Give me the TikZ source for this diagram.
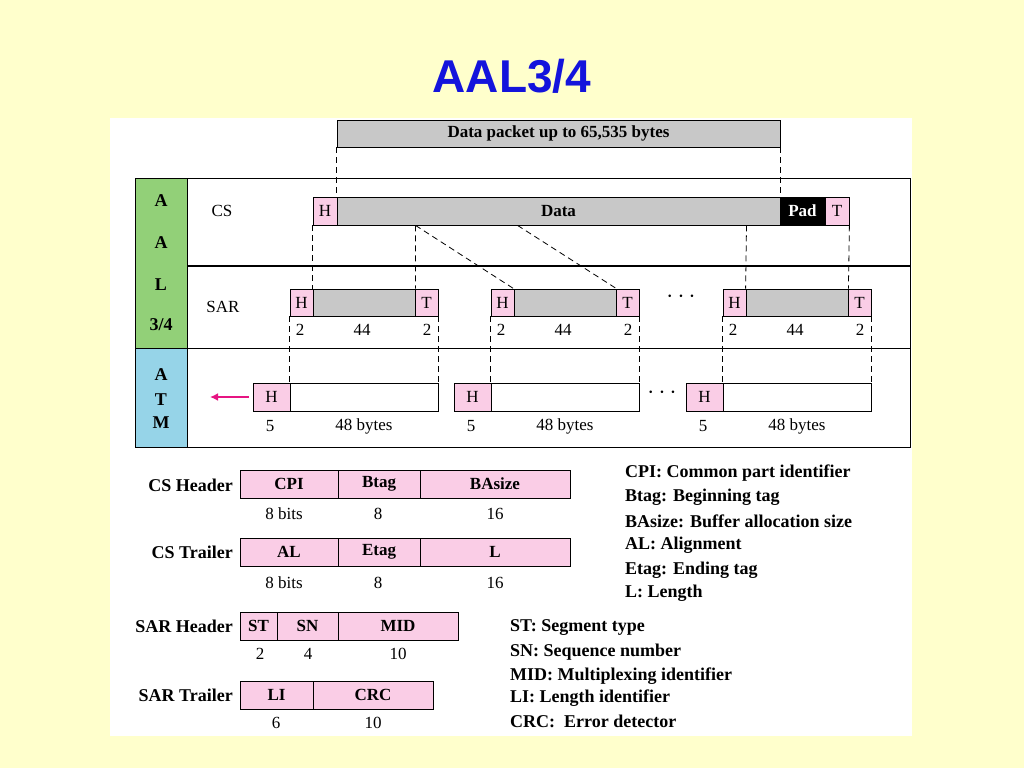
\documentclass[tikz,border=0pt]{standalone}
\usepackage{fontspec}
\usetikzlibrary{arrows.meta}
\setmainfont{Liberation Serif}
\newfontfamily\titlefont{Liberation Sans}
\definecolor{bgy}{RGB}{255,255,204}
\definecolor{pk}{RGB}{250,205,230}
\definecolor{gr}{RGB}{200,200,200}
\definecolor{aalg}{RGB}{146,208,120}
\definecolor{atmb}{RGB}{150,212,232}
\definecolor{ttl}{RGB}{20,20,220}
\definecolor{mag}{RGB}{230,20,130}
\tikzset{
  fld/.style={draw, fill=pk, inner sep=0pt, line width=0.8pt, font=\fontsize{17}{18}\selectfont},
  bfld/.style={fld, font=\fontsize{17}{18}\selectfont\bfseries},
  num/.style={inner sep=0pt, font=\fontsize{17}{18}\selectfont},
  lbl/.style={inner sep=0pt, font=\fontsize{18}{20}\selectfont\bfseries},
  dsh/.style={dashed, line width=0.8pt, dash pattern=on 6pt off 4pt}
}
\begin{document}
\begin{tikzpicture}[x=1pt,y=-1pt]
\fill[bgy] (0,0) rectangle (1024,768);
\useasboundingbox (0,0) rectangle (1024,768);
\fill[white] (110,118) rectangle (912,736);
\node[font=\titlefont\fontsize{46}{50}\selectfont\bfseries, text=ttl] (title) at (512,76) {AAL3/4};

% top data packet
\node[fld, fill=gr, minimum width=443pt, minimum height=27pt, font=\fontsize{17}{18}\selectfont\bfseries] (pkt) at (558.5,133.5) {Data packet up to 65,535 bytes};

% frame
\fill[aalg] (135,178) rectangle (187,348);
\fill[atmb] (135,348) rectangle (187,447);
\draw[line width=0.9pt] (135,178) rectangle (910,447);
\draw[line width=0.9pt] (187,178) -- (187,447);
\draw[line width=1.2pt] (187,266) -- (910,266);
\draw[line width=0.9pt] (135,348) -- (910,348);
\node[lbl] (la1) at (161,201) {A};
\node[lbl] (la2) at (161,243) {A};
\node[lbl] (la3) at (161,285) {L};
\node[lbl] (la4) at (161,325) {3/4};
\node[lbl] (lt1) at (161,375) {A};
\node[lbl] (lt2) at (161,400) {T};
\node[lbl] (lt3) at (161,423) {M};
\node[num] (cs) at (222,211) {CS};
\node[num] (sar) at (223,307) {SAR};

% CS row
\node[fld, minimum width=24pt, minimum height=28pt] (csH) at (325,211) {H};
\node[fld, fill=gr, minimum width=443pt, minimum height=28pt, font=\fontsize{17}{18}\selectfont\bfseries] (csD) at (558.5,211) {Data};
\node[fld, fill=black, text=white, minimum width=45pt, minimum height=28pt, font=\fontsize{17}{18}\selectfont\bfseries] (csP) at (802.5,211) {Pad};
\node[fld, minimum width=24pt, minimum height=28pt] (csT) at (837,211) {T};

% SAR row
\foreach \i/\x in {1/290, 2/491, 3/723} {
  \node[fld, minimum width=23pt, minimum height=27pt] (sH\i) at (\x+11.5,302.5) {H};
  \node[fld, fill=gr, minimum width=102pt, minimum height=27pt] (sD\i) at (\x+74,302.5) {};
  \node[fld, minimum width=23pt, minimum height=27pt] (sT\i) at (\x+136.5,302.5) {T};
  \node[num] (n2a\i) at (\x+10,330) {2};
  \node[num] (n44\i) at (\x+72,330) {44};
  \node[num] (n2b\i) at (\x+137,330) {2};
  \node[fld, minimum width=37pt, minimum height=28pt] (aH\i) at (\x-18.5,397) {H};
  \node[fld, fill=white, minimum width=148pt, minimum height=28pt] (aD\i) at (\x+74,397) {};
  \node[num] (a5\i) at (\x-20,426) {5};
  \node[num] (a48\i) at (\x+74,426) {48 bytes};
  \draw[dsh] (sH\i.south west) -- (aD\i.north west);
  \draw[dsh] (sT\i.south east) -- (aD\i.north east);
}
\node[font=\fontsize{26}{26}\selectfont\bfseries] (dots1) at (681,297) {$\cdots$};
\node[font=\fontsize{26}{26}\selectfont\bfseries] (dots2) at (662,393) {$\cdots$};
\coordinate (arr) at (210,397);
\draw[mag, line width=1.8pt, -{Latex[length=8pt,width=8pt]}] (aH1.west) ++(-4,0) -- (arr);

% dashed mapping
\draw[dsh] (pkt.south west) -- (csD.north west);
\draw[dsh] (pkt.south east) -- (csD.north east);
\draw[dsh] (csH.south west) -- (sD1.north west);
\draw[dsh] ([xshift=-143pt]csD.south) -- (sD1.north east);
\draw[dsh] ([xshift=-143pt]csD.south) -- (sD2.north west);
\draw[dsh] ([xshift=-41pt]csD.south) -- (sD2.north east);
\draw[dsh] ([xshift=188pt]csD.south) -- (sD3.north west);
\draw[dsh] (csT.south east) -- (sD3.north east);

% field formats
\node[lbl, anchor=east] (csh) at (233,485) {CS Header};
\node[bfld, minimum width=98pt, minimum height=28pt] (cpi) at (289,484) {CPI};
\node[bfld, minimum width=82pt, minimum height=28pt] (btag) at (379,484) {Btag};
\node[bfld, minimum width=150pt, minimum height=28pt] (bas) at (495,484) {BAsize};
\node[num] (c1) at (284,514) {8 bits};
\node[num] (c2) at (378,514) {8};
\node[num] (c3) at (495,514) {16};

\node[lbl, anchor=east] (cst) at (233,552) {CS Trailer};
\node[bfld, minimum width=98pt, minimum height=28pt] (al) at (289,552) {AL};
\node[bfld, minimum width=82pt, minimum height=28pt] (etag) at (379,552) {Etag};
\node[bfld, minimum width=150pt, minimum height=28pt] (ll) at (495,552) {L};
\node[num] (t1) at (284,583) {8 bits};
\node[num] (t2) at (378,583) {8};
\node[num] (t3) at (495,583) {16};

\node[lbl, anchor=east] (sarh) at (233,626) {SAR Header};
\node[bfld, minimum width=37pt, minimum height=28pt] (st) at (258.5,626) {ST};
\node[bfld, minimum width=61pt, minimum height=28pt] (sn) at (307.5,626) {SN};
\node[bfld, minimum width=120pt, minimum height=28pt] (mid) at (398,626) {MID};
\node[num] (h1) at (260,654) {2};
\node[num] (h2) at (308,654) {4};
\node[num] (h3) at (398,654) {10};

\node[lbl, anchor=east] (sart) at (233,695) {SAR Trailer};
\node[bfld, minimum width=73pt, minimum height=28pt] (li) at (276.5,695) {LI};
\node[bfld, minimum width=120pt, minimum height=28pt] (crc) at (373,695) {CRC};
\node[num] (r1) at (276,723) {6};
\node[num] (r2) at (373,723) {10};

% legends
\node[lbl, anchor=west] (g1) at (625,473) {CPI: Common part identifier};
\node[lbl, anchor=west] (g2) at (625,497) {Btag: Beginning tag};
\node[lbl, anchor=west] (g3) at (625,521) {BAsize: Buffer allocation size};
\node[lbl, anchor=west] (g4) at (625,545) {AL: Alignment};
\node[lbl, anchor=west] (g5) at (625,570) {Etag: Ending tag};
\node[lbl, anchor=west] (g6) at (625,593) {L: Length};
\node[lbl, anchor=west] (k1) at (510,628) {ST: Segment type};
\node[lbl, anchor=west] (k2) at (510,652) {SN: Sequence number};
\node[lbl, anchor=west] (k3) at (510,676) {MID: Multiplexing identifier};
\node[lbl, anchor=west] (k4) at (510,698) {LI: Length identifier};
\node[lbl, anchor=west] (k5) at (510,721) {CRC:\ \ Error detector};
\end{tikzpicture}
\end{document}
